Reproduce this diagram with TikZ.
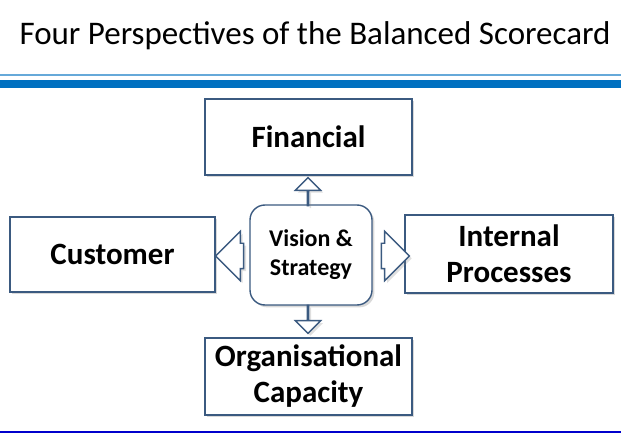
\documentclass[tikz,border=0pt]{standalone}
\usepackage{fontspec}
\setmainfont{Carlito}
\usetikzlibrary{positioning,shapes.arrows,shadows}
\definecolor{boxline}{HTML}{3B5A80}
\definecolor{barblue}{HTML}{0070C0}
\tikzset{
    persp/.style={rectangle, draw=boxline, line width=1.4pt, fill=white, align=center, font=\fontsize{31}{36}\selectfont\bfseries, drop shadow={opacity=0.3}},
    blockarrow/.style={single arrow, draw=boxline, line width=1.4pt, fill=white, minimum height=28pt, inner xsep=0pt, inner ysep=12pt, single arrow head extend=12pt, single arrow head indent=0pt, drop shadow={opacity=0.25}}
}
\begin{document}
\begin{tikzpicture}[x=1pt, y=-1pt]
    \useasboundingbox (0,0) rectangle (621,435);
    % Title and rules
    \node[anchor=west, font=\fontsize{33}{38}\selectfont] (title) at (16,36) {Four Perspectives of the Balanced Scorecard};
    \fill[barblue!60] (0,74) rectangle (621,76);
    \fill[barblue] (0,80) rectangle (621,88);
    \fill[blue!80!black] (0,431) rectangle (621,433);

    % Centre
    \node[rectangle, rounded corners=15pt, draw=boxline, line width=1.4pt, fill=white, minimum width=122pt, minimum height=100pt, align=center, font=\fontsize{24}{29}\selectfont\bfseries, drop shadow={opacity=0.3}] (vision) at (311,255) {Vision \&\\Strategy};

    % Perspectives
    \node[persp, minimum width=207pt, minimum height=76pt] (financial) at (308.5,137) {Financial};
    \node[persp, minimum width=205pt, minimum height=75pt] (customer) at (112.5,254.5) {Customer};
    \node[persp, minimum width=208pt, minimum height=78pt] (internal) at (509,254) {Internal\\Processes};
    \node[persp, minimum width=207pt, minimum height=77pt] (organisational) at (308.5,376.5) {Organisational\\Capacity};

    % Arrows
    \node[blockarrow, shape border rotate=90] (upArrow) at (308,192) {};
    \node[blockarrow, shape border rotate=180] (leftArrow) at (236,256) {};
    \node[blockarrow] (rightArrow) at (389,256) {};
    \node[blockarrow, shape border rotate=270] (downArrow) at (308,319) {};
\end{tikzpicture}
\end{document}
